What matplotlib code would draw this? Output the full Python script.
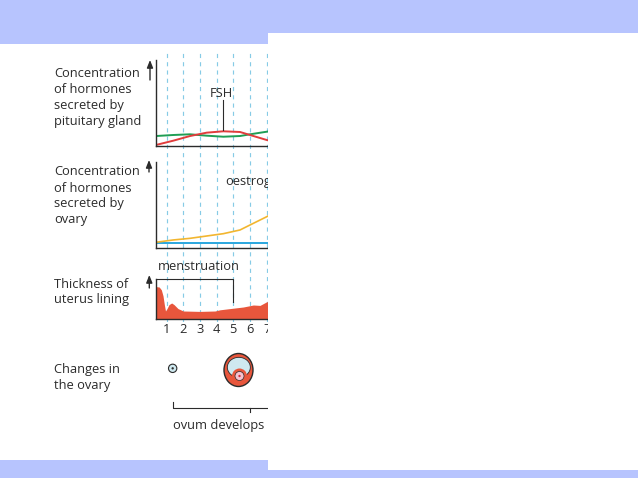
import numpy as np
import matplotlib.pyplot as plt
from matplotlib.patches import Rectangle, Circle, Ellipse, FancyArrowPatch

plt.rcParams['font.family'] = ['Open Sans', 'DejaVu Sans']

# days of the cycle shown on the axis
days = [1, 2, 3, 4, 5, 6, 7, 8, 9]

# pituitary hormones (arbitrary units, 0-10)
t_pit = [0.36, 1.4, 2.4, 3.4, 4.4, 5.4, 6.0, 7.0, 7.6]
lh = [1.16, 1.28, 1.36, 1.20, 1.08, 1.16, 1.36, 1.66, 1.9]
fsh = [0.12, 0.62, 1.16, 1.55, 1.71, 1.63, 1.28, 0.70, 0.4]

# ovarian hormones (arbitrary units, 0-10)
t_ova = [0.36, 1.4, 2.4, 3.4, 4.4, 5.4, 6.0, 7.0, 7.6]
oestrogen = [0.63, 0.90, 1.09, 1.36, 1.63, 2.06, 2.64, 3.60, 4.3]
progesterone = [0.51, 0.51, 0.51, 0.51, 0.51, 0.51, 0.51, 0.51, 0.51]

# thickness of uterus lining (arbitrary units, 0-10)
t_ut = [0.36, 0.55, 0.68, 0.78, 0.86, 0.93, 1.02, 1.14, 1.3, 1.44, 1.68, 2.0,
        3.0, 3.9, 4.2, 4.6, 5.0, 5.6, 6.2, 6.6, 7.0, 7.6]
lining = [8.1, 8.0, 7.3, 5.8, 3.6, 2.0, 2.6, 3.6, 4.0, 3.6, 2.6, 2.0,
          1.9, 2.0, 2.3, 2.5, 2.7, 3.0, 3.5, 3.4, 4.3, 4.5]

menstruation = (0.36, 5.0)
ovum_develops = (1.36, 6.0)
fsh_label_day = 4.36

W, H = 638, 478
def fx(p):
    return p / W
def fy(p):
    return 1 - p / H

blue_bg = '#b7c4fe'
dark = '#2b2b2b'
dash_col = '#86cbe6'
fs = 9.3

fig = plt.figure(figsize=(W / 100, H / 100), dpi=100, facecolor=blue_bg)
fig.add_artist(Rectangle((0, fy(460)), fx(268), fy(44) - fy(460),
                         transform=fig.transFigure, facecolor='white',
                         edgecolor='none', zorder=-10))

def day_axes(top, bottom, ylim):
    ax = fig.add_axes([fx(156), fy(bottom), fx(300) - fx(156), fy(top) - fy(bottom)])
    ax.set_xlim(0.36, 9.0)
    ax.set_ylim(*ylim)
    ax.patch.set_alpha(0)
    for s in ['top', 'right']:
        ax.spines[s].set_visible(False)
    for s in ['left', 'bottom']:
        ax.spines[s].set_color(dark)
        ax.spines[s].set_linewidth(1.0)
    ax.set_xticks([])
    ax.set_yticks([])
    return ax

# dashed day lines behind all panels
bg = fig.add_axes([fx(156), fy(322), fx(300) - fx(156), fy(50) - fy(322)])
bg.set_xlim(0.36, 9.0)
bg.set_ylim(0, 1)
bg.axis('off')
for d in days:
    bg.axvline(d, color=dash_col, lw=0.85, ls=(0, (3.5, 3.5)))

# panel 1: pituitary
ax1 = day_axes(60, 146, (0, 10))
ax1.plot(t_pit, lh, color='#1f9e55', lw=1.4)
ax1.plot(t_pit, fsh, color='#e03c3c', lw=1.4)
peak = np.interp(fsh_label_day, t_pit, fsh)
ax1.plot([fsh_label_day, fsh_label_day], [peak + 0.2, 5.35], color=dark, lw=0.8)
ax1.text(fsh_label_day - 0.06, 6.16, 'FSH', ha='center', va='center',
         fontsize=fs, color=dark)

# panel 2: ovary hormones
ax2 = day_axes(161.7, 247.7, (0, 10))
ax2.plot(t_ova, progesterone, color='#2aa7df', lw=1.4)
ax2.plot(t_ova, oestrogen, color='#f2b630', lw=1.2)
ax2.text(4.54, 7.67, 'oestrogen', ha='left', va='center', fontsize=fs, color=dark)

# panel 3: uterus lining
ax3 = day_axes(279, 319, (0, 10))
ax3.fill_between(t_ut, lining, 0, color='#e8563c', lw=0)
ax3.set_xticks(days[:7])
ax3.set_xticklabels([str(d) for d in days[:7]], fontsize=fs, color=dark)
ax3.tick_params(axis='x', length=0, pad=3)
m0, m1 = menstruation
ax3.plot([m0, m1, m1], [10, 10, 4.3], color=dark, lw=0.8, clip_on=False)
ax3.text(m0 + 0.12, 13.1, 'menstruation', ha='left', va='center', fontsize=fs,
         color=dark, clip_on=False)

# panel 4: ovary
ax4 = fig.add_axes([fx(156), fy(440), fx(300) - fx(156), fy(340) - fy(440)])
ax4.set_xlim(0.36, 9.0)
ax4.set_ylim(0, 6)
ax4.axis('off')
ax4.add_patch(Circle((1.36, 4.30), 0.25, facecolor='#cfe9f0', edgecolor=dark, lw=0.8))
ax4.add_patch(Circle((1.36, 4.30), 0.07, facecolor=dark, edgecolor='none'))
ax4.add_patch(Ellipse((5.31, 4.2), 1.74, 1.98, facecolor='#e8563c', edgecolor=dark, lw=1.0))
ax4.add_patch(Ellipse((5.33, 4.36), 1.38, 1.2, facecolor='#cfe9f0', edgecolor=dark, lw=0.6))
ax4.add_patch(Circle((5.37, 3.84), 0.45, facecolor='#e8563c', edgecolor='none'))
ax4.add_patch(Circle((5.37, 3.84), 0.27, facecolor='#f6c2cf', edgecolor=dark, lw=0.5))
ax4.add_patch(Circle((5.37, 3.84), 0.07, facecolor='#d0303a', edgecolor='none'))
o0, o1 = ovum_develops
ax4.plot([o0, o0, 9.0], [2.3, 1.9, 1.9], color=dark, lw=0.8)
ax4.plot([o1, o1], [1.9, 1.68], color=dark, lw=0.8)
ax4.text(o0 + 0.02, 0.84, 'ovum develops', ha='left', va='center', fontsize=fs, color=dark)

# left labels
labels = [
    (73.3, ['Concentration', 'of hormones', 'secreted by', 'pituitary gland']),
    (172.0, ['Concentration', 'of hormones', 'secreted by', 'ovary']),
    (284.0, ['Thickness of', 'uterus lining']),
    (369.0, ['Changes in', 'the ovary']),
]
for y0, lines in labels:
    for i, line in enumerate(lines):
        fig.text(fx(54), fy(y0 + 16 * i), line, ha='left', va='center',
                 fontsize=fs, color=dark)

# up arrows
for x, y_a, y_b in [(150, 80, 60), (149, 172, 160), (149.3, 288, 275)]:
    fig.add_artist(FancyArrowPatch((fx(x), fy(y_a)), (fx(x), fy(y_b)),
                                   transform=fig.transFigure,
                                   arrowstyle='-|>,head_length=0.45,head_width=0.18',
                                   shrinkA=0, shrinkB=0,
                                   color=dark, lw=1.0, mutation_scale=10))

# white panel over the right part
fig.add_artist(Rectangle((fx(268), fy(470)), fx(638) - fx(268), fy(33) - fy(470),
                         transform=fig.transFigure, facecolor='white',
                         edgecolor='none', zorder=10))

plt.savefig('out.png', dpi=100, facecolor=blue_bg)
